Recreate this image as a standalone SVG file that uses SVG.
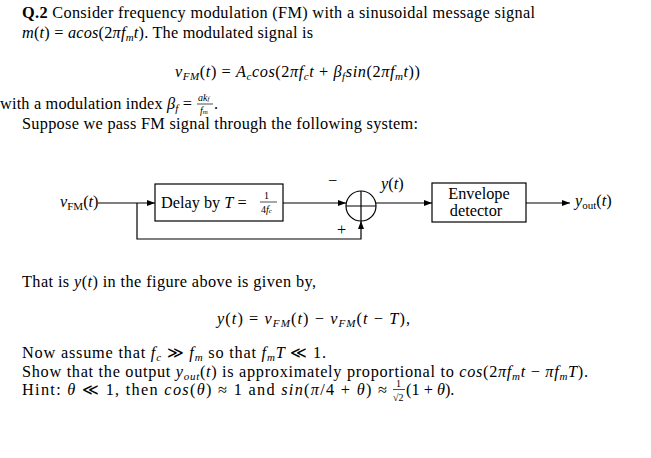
<svg xmlns="http://www.w3.org/2000/svg" width="651" height="458" viewBox="0 0 651 458">
<style>
text{font-family:"Liberation Serif","DejaVu Serif",serif;font-size:16.3px;fill:#000}
.i{font-style:italic}
.s{font-size:11px}
.f{font-size:10px}
.b{fill:#fff;stroke:#000;stroke-width:1.2}
.c{fill:none;stroke:#000;stroke-width:1.2}
</style>
<defs><marker id="a" markerWidth="8" markerHeight="6" refX="8" refY="3" orient="auto" markerUnits="userSpaceOnUse"><path d="M0,0L8,3L0,6z"/></marker></defs>
<rect width="651" height="458" fill="#fff"/>
<text x="22" y="18" textLength="513" lengthAdjust="spacing"><tspan font-weight="bold">Q.2</tspan> Consider frequency modulation (FM) with a sinusoidal message signal</text>
<text x="22" y="38" textLength="291" lengthAdjust="spacing"><tspan class="i">m</tspan>(<tspan class="i">t</tspan>) = <tspan class="i">acos</tspan>(2<tspan class="i">πf<tspan class="s" dy="3">m</tspan><tspan dy="-3">t</tspan></tspan>). The modulated signal is</text>
<text x="175" y="77" textLength="245" lengthAdjust="spacing"><tspan class="i">v<tspan class="s" dy="3">FM</tspan></tspan><tspan dy="-3">(</tspan><tspan class="i">t</tspan>) = <tspan class="i">A<tspan class="s" dy="3">c</tspan><tspan dy="-3">cos</tspan></tspan>(2<tspan class="i">πf<tspan class="s" dy="3">c</tspan><tspan dy="-3">t</tspan></tspan> + <tspan class="i">β<tspan class="s" dy="3">f</tspan><tspan dy="-3">sin</tspan></tspan>(2<tspan class="i">πf<tspan class="s" dy="3">m</tspan><tspan dy="-3">t</tspan></tspan>))</text>
<text x="0" y="109" textLength="192" lengthAdjust="spacing">with a modulation index <tspan class="i">β<tspan class="s" dy="3">f</tspan></tspan><tspan dy="-3"> =</tspan></text>
<text x="198" y="101" class="i f">ak<tspan font-size="7">f</tspan></text>
<line x1="197" y1="104" x2="213" y2="104" stroke="#000" stroke-width="0.7"/>
<text x="200" y="114" class="i f">f<tspan font-size="7">m</tspan></text>
<text x="214" y="109">.</text>
<text x="22" y="129" textLength="396" lengthAdjust="spacing">Suppose we pass FM signal through the following system:</text>

<g id="input"><text x="60" y="207" class="i">v<tspan class="s" dy="3" font-style="normal">FM</tspan><tspan dy="-3" font-style="normal">(</tspan>t<tspan font-style="normal">)</tspan></text></g>
<g id="delay"><rect class="b" x="155" y="184" width="128" height="37"/>
<text x="161" y="208">Delay by <tspan class="i">T</tspan> = </text>
<text x="264" y="199" class="f">1</text><line x1="260" y1="202" x2="277" y2="202" stroke="#000" stroke-width="0.7"/><text x="261" y="213" class="f">4<tspan class="i">f<tspan font-size="7">c</tspan></tspan></text></g>
<g id="sum"><circle class="b" cx="361" cy="206" r="15"/><path class="c" d="M346,206H376M361,191V221"/>
<text x="328" y="186">−</text><text x="337" y="235">+</text>
<text x="381" y="189" class="i">y<tspan font-style="normal">(</tspan>t<tspan font-style="normal">)</tspan></text></g>
<g id="env"><rect class="b" x="432" y="183" width="94" height="39"/>
<text x="479" y="199" text-anchor="middle">Envelope</text><text x="476" y="216" text-anchor="middle">detector</text></g>
<g id="output"><text x="575" y="206" class="i">y<tspan class="s" dy="3" font-style="normal">out</tspan><tspan dy="-3" font-style="normal">(</tspan>t<tspan font-style="normal">)</tspan></text></g>
<g id="connectors">
<path class="c" d="M98,203H155" marker-end="url(#a)"/>
<path class="c" d="M137,203V239H361V221" marker-end="url(#a)"/>
<path class="c" d="M283,203H346" marker-end="url(#a)"/>
<path class="c" d="M376,203H432" marker-end="url(#a)"/>
<path class="c" d="M526,203H570" marker-end="url(#a)"/>
</g>

<text x="22" y="287" textLength="294" lengthAdjust="spacing">That is <tspan class="i">y</tspan>(<tspan class="i">t</tspan>) in the figure above is given by,</text>
<text x="217" y="324" textLength="193" lengthAdjust="spacing"><tspan class="i">y</tspan>(<tspan class="i">t</tspan>) = <tspan class="i">v<tspan class="s" dy="3">FM</tspan></tspan><tspan dy="-3">(</tspan><tspan class="i">t</tspan>) − <tspan class="i">v<tspan class="s" dy="3">FM</tspan></tspan><tspan dy="-3">(</tspan><tspan class="i">t</tspan> − <tspan class="i">T</tspan>),</text>
<text x="22" y="358" textLength="304" lengthAdjust="spacing">Now assume that <tspan class="i">f<tspan class="s" dy="3">c</tspan></tspan><tspan dy="-3"> ≫ </tspan><tspan class="i">f<tspan class="s" dy="3">m</tspan></tspan><tspan dy="-3"> so that </tspan><tspan class="i">f<tspan class="s" dy="3">m</tspan><tspan dy="-3">T</tspan></tspan> ≪ 1.</text>
<text x="22" y="377" textLength="566" lengthAdjust="spacing">Show that the output <tspan class="i">y<tspan class="s" dy="3">out</tspan></tspan><tspan dy="-3">(</tspan><tspan class="i">t</tspan>) is approximately proportional to <tspan class="i">cos</tspan>(2<tspan class="i">πf<tspan class="s" dy="3">m</tspan><tspan dy="-3">t</tspan></tspan> − <tspan class="i">πf<tspan class="s" dy="3">m</tspan><tspan dy="-3">T</tspan></tspan>).</text>
<text x="22" y="395" textLength="365" lengthAdjust="spacing">Hint: <tspan class="i">θ</tspan> ≪ 1, then <tspan class="i">cos</tspan>(<tspan class="i">θ</tspan>) ≈ 1 and <tspan class="i">sin</tspan>(<tspan class="i">π</tspan>/4 + <tspan class="i">θ</tspan>) ≈</text>
<text x="396" y="387" class="f">1</text><line x1="393" y1="389.5" x2="405" y2="389.5" stroke="#000" stroke-width="0.7"/><text x="393" y="401" class="f">√2</text>
<text x="406" y="395">(1 + <tspan class="i">θ</tspan>).</text>
</svg>
